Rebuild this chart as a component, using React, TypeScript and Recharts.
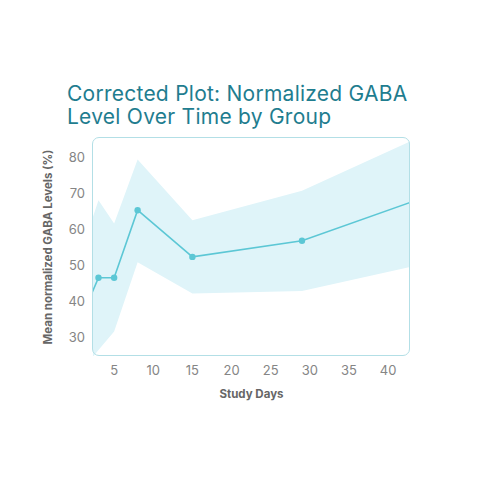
import React from "react";
import { ComposedChart, Line, Area, XAxis, YAxis, Label } from "recharts";

const days = [1, 3, 5, 8, 15, 29, 43];
const meanLevels = [36.5, 46.6, 46.6, 65.4, 52.4, 56.9, 67.7];
const upperBound = [55, 68.2, 61.7, 79.5, 62.6, 70.8, 84.7];
const lowerBound = [21, 26.5, 31.6, 50.9, 42.2, 42.9, 49.7];
const xTicks = [5, 10, 15, 20, 25, 30, 35, 40];
const yTicks = [30, 40, 50, 60, 70, 80];
const xDomain: [number, number] = [2.3, 42.8];
const yDomain: [number, number] = [24.8, 85.5];

const data = days.map((d, i) => ({
  day: d,
  mean: meanLevels[i],
  band: [lowerBound[i], upperBound[i]],
}));

const FONT = "Inter, 'Noto Sans', sans-serif";
const LINE = "#5cc7d5";

const renderDot = (props: any) => {
  const { cx, cy, payload, index } = props;
  if (payload.day < xDomain[0] || payload.day > xDomain[1]) return <g key={`d${index}`} />;
  return <circle key={`d${index}`} cx={cx} cy={cy} r={3.2} fill={LINE} stroke="none" />;
};

export default function App() {
  return (
    <div style={{ position: "absolute", left: 0, top: 0, width: 480, height: 480, background: "#fff", fontFamily: FONT }}>
      <div
        style={{
          position: "absolute",
          left: 67,
          top: 82,
          fontSize: 21,
          lineHeight: "23px",
          color: "#1f7d8f",
          fontFamily: FONT,
          letterSpacing: 0.25,
        }}
      >
        Corrected Plot: Normalized GABA
        <br />
        Level Over Time by Group
      </div>
      <ComposedChart width={480} height={480} data={data} margin={{ top: 138, right: 70, bottom: 94, left: 43 }}>
        <Area
          dataKey="band"
          type="linear"
          fill="#dff4f9"
          fillOpacity={1}
          stroke="none"
          isAnimationActive={false}
          activeDot={false}
        />
        <Line
          dataKey="mean"
          type="linear"
          stroke={LINE}
          strokeWidth={1.6}
          dot={renderDot}
          activeDot={false}
          isAnimationActive={false}
        />
        <XAxis
          dataKey="day"
          type="number"
          domain={xDomain}
          allowDataOverflow
          ticks={xTicks}
          axisLine={false}
          tickLine={false}
          tickMargin={4}
          height={30}
          tick={{ fill: "#858585", fontSize: 13, fontFamily: FONT }}
        >
          <Label value="Study Days" position="bottom" offset={4} style={{ fill: "#666", fontSize: 11.5, fontWeight: 700, fontFamily: FONT }} />
        </XAxis>
        <YAxis
          type="number"
          domain={yDomain}
          allowDataOverflow
          ticks={yTicks}
          axisLine={false}
          tickLine={false}
          width={50}
          tick={{ fill: "#858585", fontSize: 13, fontFamily: FONT }}
        >
          <Label
            value="Mean normalized GABA Levels (%)"
            angle={-90}
            position="insideLeft"
            offset={5}
            style={{ fill: "#666", fontSize: 11.5, fontWeight: 700, fontFamily: FONT, textAnchor: "middle" }}
          />
        </YAxis>
      </ComposedChart>
      <div
        style={{
          position: "absolute",
          left: 92,
          top: 137,
          width: 318,
          height: 219,
          border: "1.5px solid #b3dfe6",
          borderRadius: 7,
          pointerEvents: "none",
          boxSizing: "border-box",
        }}
      />
    </div>
  );
}
